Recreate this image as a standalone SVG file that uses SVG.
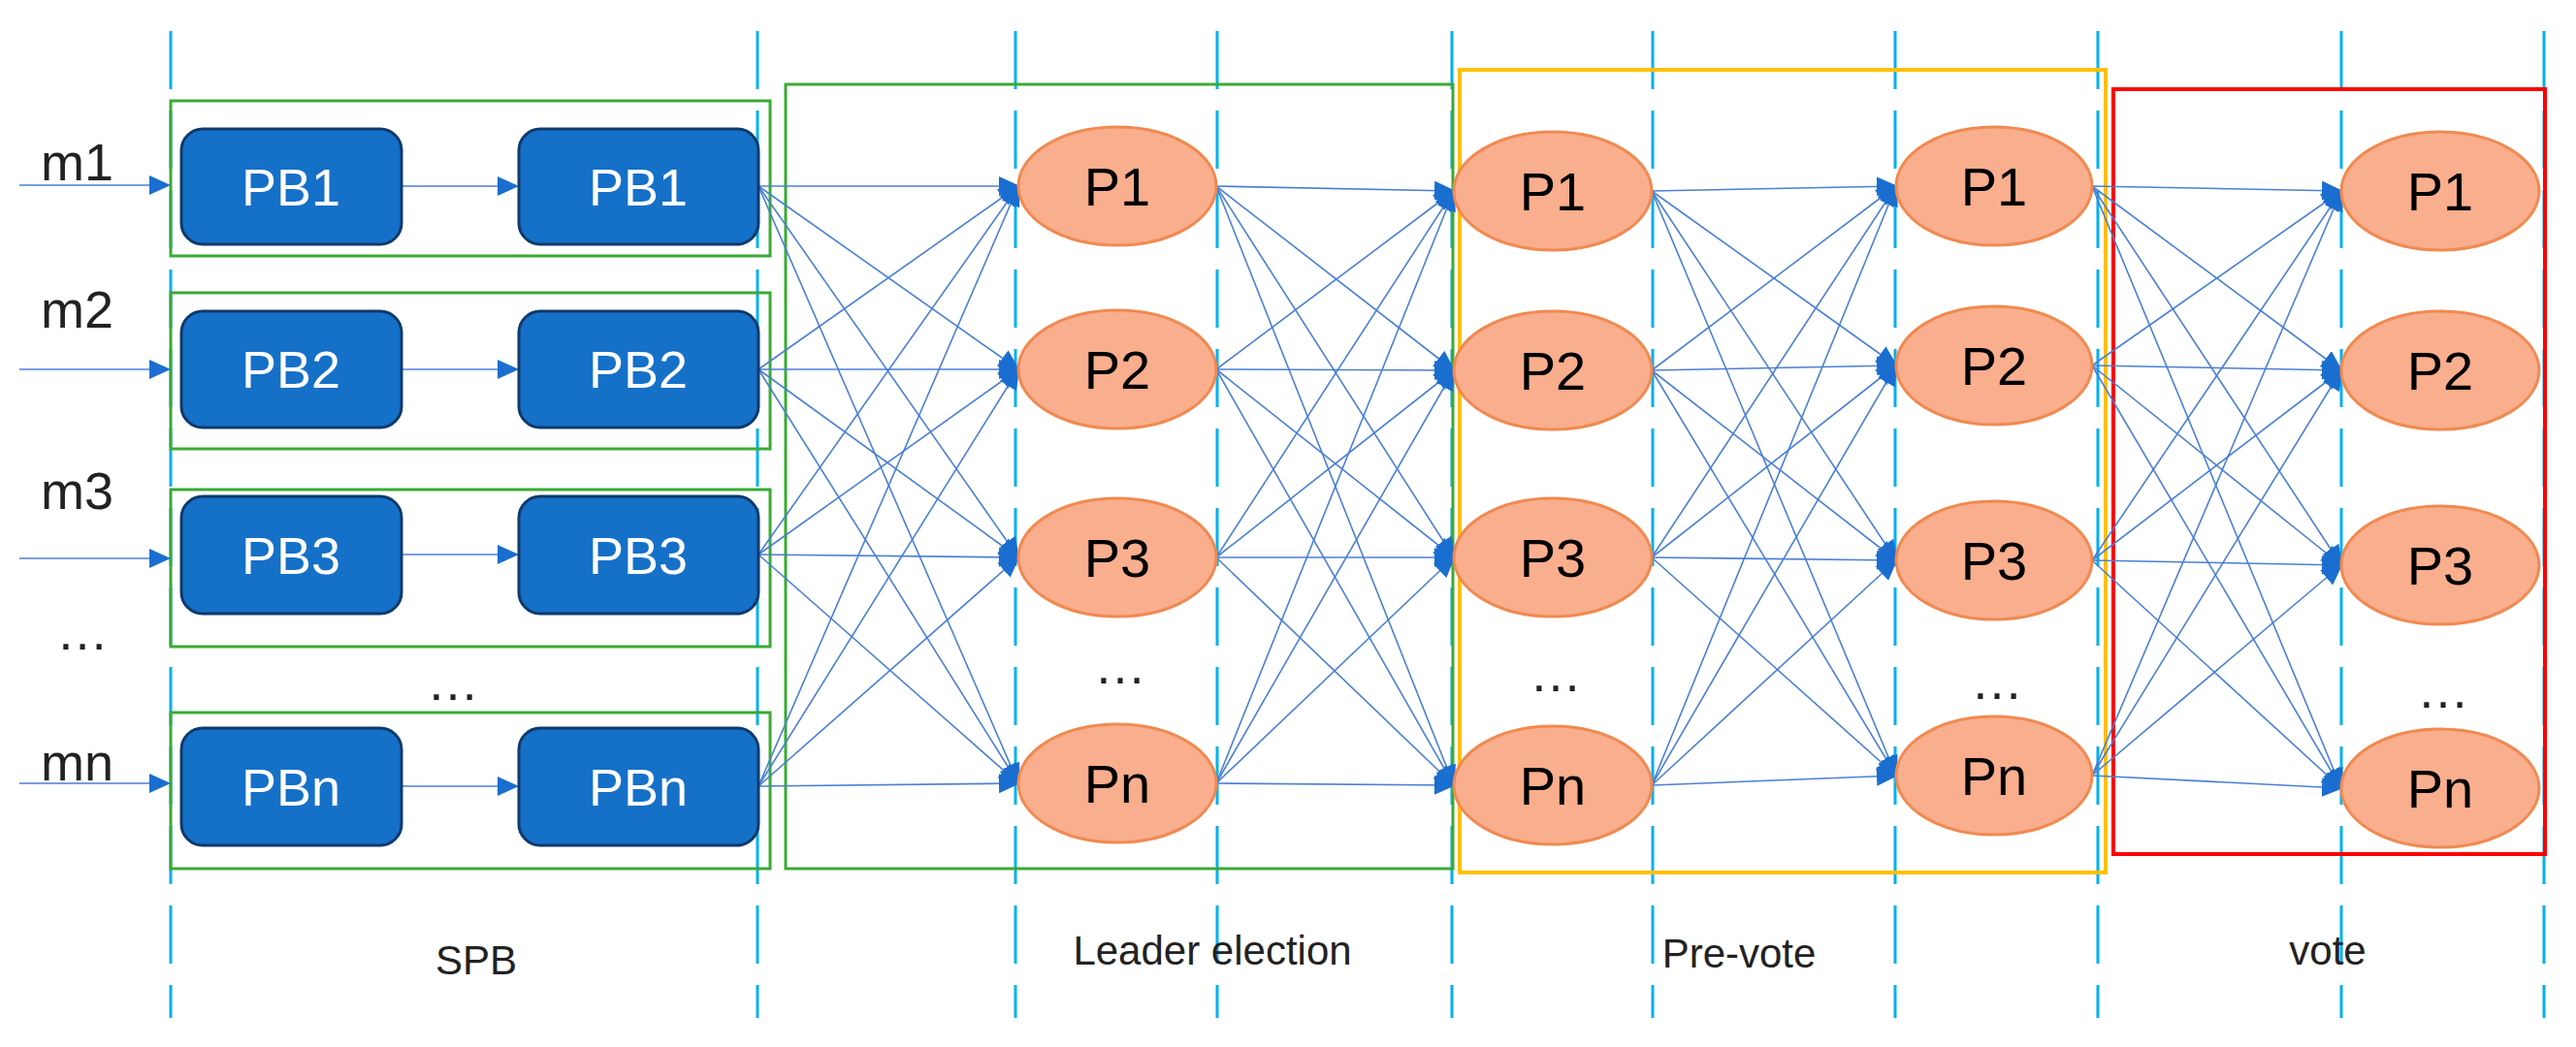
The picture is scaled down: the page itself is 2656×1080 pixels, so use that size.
<svg xmlns="http://www.w3.org/2000/svg" width="2656" height="1080" viewBox="0 0 2656 1080">
<style>
.dash{stroke:#00B0F0;stroke-width:3;stroke-dasharray:60 22;fill:none}
.pb{fill:#1570C8;stroke:#0F3A6B;stroke-width:3}
.pbt{fill:#fff;font-family:"Liberation Sans",sans-serif;font-size:54px;text-anchor:middle}
.el{fill:#F9AE8E;stroke:#F08A50;stroke-width:3}
.elt{fill:#000;font-family:"Liberation Sans",sans-serif;font-size:56px;text-anchor:middle}
.lbl{fill:#222;font-family:"Liberation Sans",sans-serif;font-size:42px;text-anchor:middle}
.ml{fill:#222;font-family:"Liberation Sans",sans-serif;font-size:54px}
.c line{stroke:#4A7FD6;stroke-width:1.6;marker-end:url(#ah)}
</style>
<defs>
<marker id="ah" markerUnits="userSpaceOnUse" markerWidth="22" markerHeight="20" refX="20" refY="10" orient="auto"><path d="M0,0 L22,10 L0,20 z" fill="#1A6ED0"/></marker>
</defs>
<g id="dashes">
<line class="dash" x1="176" y1="32" x2="176" y2="1050"/>
<line class="dash" x1="781" y1="32" x2="781" y2="1050"/>
<line class="dash" x1="1047" y1="32" x2="1047" y2="1050"/>
<line class="dash" x1="1255" y1="32" x2="1255" y2="1050"/>
<line class="dash" x1="1497" y1="32" x2="1497" y2="1050"/>
<line class="dash" x1="1704" y1="32" x2="1704" y2="1050"/>
<line class="dash" x1="1954" y1="32" x2="1954" y2="1050"/>
<line class="dash" x1="2163" y1="32" x2="2163" y2="1050"/>
<line class="dash" x1="2414" y1="32" x2="2414" y2="1050"/>
<line class="dash" x1="2623" y1="32" x2="2623" y2="1050"/>
</g>
<g id="frames" fill="none" stroke-width="3">
<rect x="176" y="104" width="618" height="160" stroke="#3BAA35"/>
<rect x="176" y="302" width="618" height="161" stroke="#3BAA35"/>
<rect x="176" y="505" width="618" height="162" stroke="#3BAA35"/>
<rect x="176" y="735" width="618" height="161" stroke="#3BAA35"/>
<rect x="810" y="87" width="688" height="809" stroke="#3BAA35"/>
<rect x="1505" y="72" width="666" height="828" stroke="#FFC000" stroke-width="4"/>
<rect x="2179" y="92" width="445" height="789" stroke="#FF0000" stroke-width="4"/>
</g>
<g id="labels">
<text class="ml" x="42" y="186">m1</text>
<text class="ml" x="42" y="338">m2</text>
<text class="ml" x="42" y="525">m3</text>
<text class="ml" x="58" y="670">…</text>
<text class="ml" x="42" y="805">mn</text>
<text class="ml" x="440" y="722">…</text>
<text class="lbl" x="491" y="1005">SPB</text>
<text class="lbl" x="1250" y="995">Leader election</text>
<text class="lbl" x="1793" y="998">Pre-vote</text>
<text class="lbl" x="2400" y="995">vote</text>
<text class="ml" x="1128" y="705">…</text>
<text class="ml" x="1577" y="713">…</text>
<text class="ml" x="2032" y="721">…</text>
<text class="ml" x="2492" y="730">…</text>
</g>
<g class="c" id="connectors">
<line x1="20" y1="191" x2="174" y2="191"/><line x1="20" y1="381" x2="174" y2="381"/><line x1="20" y1="576" x2="174" y2="576"/><line x1="20" y1="808" x2="174" y2="808"/>
<line x1="414" y1="192" x2="533" y2="192"/><line x1="414" y1="381" x2="533" y2="381"/><line x1="414" y1="572" x2="533" y2="572"/><line x1="414" y1="811" x2="533" y2="811"/>
<line x1="782" y1="192" x2="1050" y2="192"/><line x1="782" y1="192" x2="1050" y2="381"/><line x1="782" y1="192" x2="1050" y2="575"/><line x1="782" y1="192" x2="1050" y2="808"/>
<line x1="782" y1="381" x2="1050" y2="192"/><line x1="782" y1="381" x2="1050" y2="381"/><line x1="782" y1="381" x2="1050" y2="575"/><line x1="782" y1="381" x2="1050" y2="808"/>
<line x1="782" y1="572" x2="1050" y2="192"/><line x1="782" y1="572" x2="1050" y2="381"/><line x1="782" y1="572" x2="1050" y2="575"/><line x1="782" y1="572" x2="1050" y2="808"/>
<line x1="782" y1="811" x2="1050" y2="192"/><line x1="782" y1="811" x2="1050" y2="381"/><line x1="782" y1="811" x2="1050" y2="575"/><line x1="782" y1="811" x2="1050" y2="808"/>
<line x1="1254" y1="192" x2="1499" y2="197"/><line x1="1254" y1="192" x2="1499" y2="382"/><line x1="1254" y1="192" x2="1499" y2="575"/><line x1="1254" y1="192" x2="1499" y2="810"/>
<line x1="1254" y1="381" x2="1499" y2="197"/><line x1="1254" y1="381" x2="1499" y2="382"/><line x1="1254" y1="381" x2="1499" y2="575"/><line x1="1254" y1="381" x2="1499" y2="810"/>
<line x1="1254" y1="575" x2="1499" y2="197"/><line x1="1254" y1="575" x2="1499" y2="382"/><line x1="1254" y1="575" x2="1499" y2="575"/><line x1="1254" y1="575" x2="1499" y2="810"/>
<line x1="1254" y1="808" x2="1499" y2="197"/><line x1="1254" y1="808" x2="1499" y2="382"/><line x1="1254" y1="808" x2="1499" y2="575"/><line x1="1254" y1="808" x2="1499" y2="810"/>
<line x1="1703" y1="197" x2="1955" y2="192"/><line x1="1703" y1="197" x2="1955" y2="377"/><line x1="1703" y1="197" x2="1955" y2="578"/><line x1="1703" y1="197" x2="1955" y2="800"/>
<line x1="1703" y1="382" x2="1955" y2="192"/><line x1="1703" y1="382" x2="1955" y2="377"/><line x1="1703" y1="382" x2="1955" y2="578"/><line x1="1703" y1="382" x2="1955" y2="800"/>
<line x1="1703" y1="575" x2="1955" y2="192"/><line x1="1703" y1="575" x2="1955" y2="377"/><line x1="1703" y1="575" x2="1955" y2="578"/><line x1="1703" y1="575" x2="1955" y2="800"/>
<line x1="1703" y1="810" x2="1955" y2="192"/><line x1="1703" y1="810" x2="1955" y2="377"/><line x1="1703" y1="810" x2="1955" y2="578"/><line x1="1703" y1="810" x2="1955" y2="800"/>
<line x1="2157" y1="192" x2="2414" y2="197"/><line x1="2157" y1="192" x2="2414" y2="382"/><line x1="2157" y1="192" x2="2414" y2="583"/><line x1="2157" y1="192" x2="2414" y2="813"/>
<line x1="2157" y1="377" x2="2414" y2="197"/><line x1="2157" y1="377" x2="2414" y2="382"/><line x1="2157" y1="377" x2="2414" y2="583"/><line x1="2157" y1="377" x2="2414" y2="813"/>
<line x1="2157" y1="578" x2="2414" y2="197"/><line x1="2157" y1="578" x2="2414" y2="382"/><line x1="2157" y1="578" x2="2414" y2="583"/><line x1="2157" y1="578" x2="2414" y2="813"/>
<line x1="2157" y1="800" x2="2414" y2="197"/><line x1="2157" y1="800" x2="2414" y2="382"/><line x1="2157" y1="800" x2="2414" y2="583"/><line x1="2157" y1="800" x2="2414" y2="813"/>
</g>
<g id="pb1a"><rect class="pb" x="187" y="133" width="227" height="119" rx="22"/><text class="pbt" x="300" y="212">PB1</text></g>
<g id="pb1b"><rect class="pb" x="535" y="133" width="247" height="119" rx="22"/><text class="pbt" x="658" y="212">PB1</text></g>
<g id="pb2a"><rect class="pb" x="187" y="321" width="227" height="120" rx="22"/><text class="pbt" x="300" y="400">PB2</text></g>
<g id="pb2b"><rect class="pb" x="535" y="321" width="247" height="120" rx="22"/><text class="pbt" x="658" y="400">PB2</text></g>
<g id="pb3a"><rect class="pb" x="187" y="512" width="227" height="121" rx="22"/><text class="pbt" x="300" y="592">PB3</text></g>
<g id="pb3b"><rect class="pb" x="535" y="512" width="247" height="121" rx="22"/><text class="pbt" x="658" y="592">PB3</text></g>
<g id="pbna"><rect class="pb" x="187" y="751" width="227" height="121" rx="22"/><text class="pbt" x="300" y="831">PBn</text></g>
<g id="pbnb"><rect class="pb" x="535" y="751" width="247" height="121" rx="22"/><text class="pbt" x="658" y="831">PBn</text></g>
<g id="l1"><ellipse class="el" cx="1152" cy="192" rx="102" ry="61"/><text class="elt" x="1152" y="212">P1</text></g>
<g id="l2"><ellipse class="el" cx="1152" cy="381" rx="102" ry="61"/><text class="elt" x="1152" y="401">P2</text></g>
<g id="l3"><ellipse class="el" cx="1152" cy="575" rx="102" ry="61"/><text class="elt" x="1152" y="595">P3</text></g>
<g id="ln"><ellipse class="el" cx="1152" cy="808" rx="102" ry="61"/><text class="elt" x="1152" y="828">Pn</text></g>
<g id="a1"><ellipse class="el" cx="1601" cy="197" rx="102" ry="61"/><text class="elt" x="1601" y="217">P1</text></g>
<g id="a2"><ellipse class="el" cx="1601" cy="382" rx="102" ry="61"/><text class="elt" x="1601" y="402">P2</text></g>
<g id="a3"><ellipse class="el" cx="1601" cy="575" rx="102" ry="61"/><text class="elt" x="1601" y="595">P3</text></g>
<g id="an"><ellipse class="el" cx="1601" cy="810" rx="102" ry="61"/><text class="elt" x="1601" y="830">Pn</text></g>
<g id="b1"><ellipse class="el" cx="2056" cy="192" rx="101" ry="61"/><text class="elt" x="2056" y="212">P1</text></g>
<g id="b2"><ellipse class="el" cx="2056" cy="377" rx="101" ry="61"/><text class="elt" x="2056" y="397">P2</text></g>
<g id="b3"><ellipse class="el" cx="2056" cy="578" rx="101" ry="61"/><text class="elt" x="2056" y="598">P3</text></g>
<g id="bn"><ellipse class="el" cx="2056" cy="800" rx="101" ry="61"/><text class="elt" x="2056" y="820">Pn</text></g>
<g id="v1"><ellipse class="el" cx="2516" cy="197" rx="102" ry="61"/><text class="elt" x="2516" y="217">P1</text></g>
<g id="v2"><ellipse class="el" cx="2516" cy="382" rx="102" ry="61"/><text class="elt" x="2516" y="402">P2</text></g>
<g id="v3"><ellipse class="el" cx="2516" cy="583" rx="102" ry="61"/><text class="elt" x="2516" y="603">P3</text></g>
<g id="vn"><ellipse class="el" cx="2516" cy="813" rx="102" ry="61"/><text class="elt" x="2516" y="833">Pn</text></g>
</svg>
